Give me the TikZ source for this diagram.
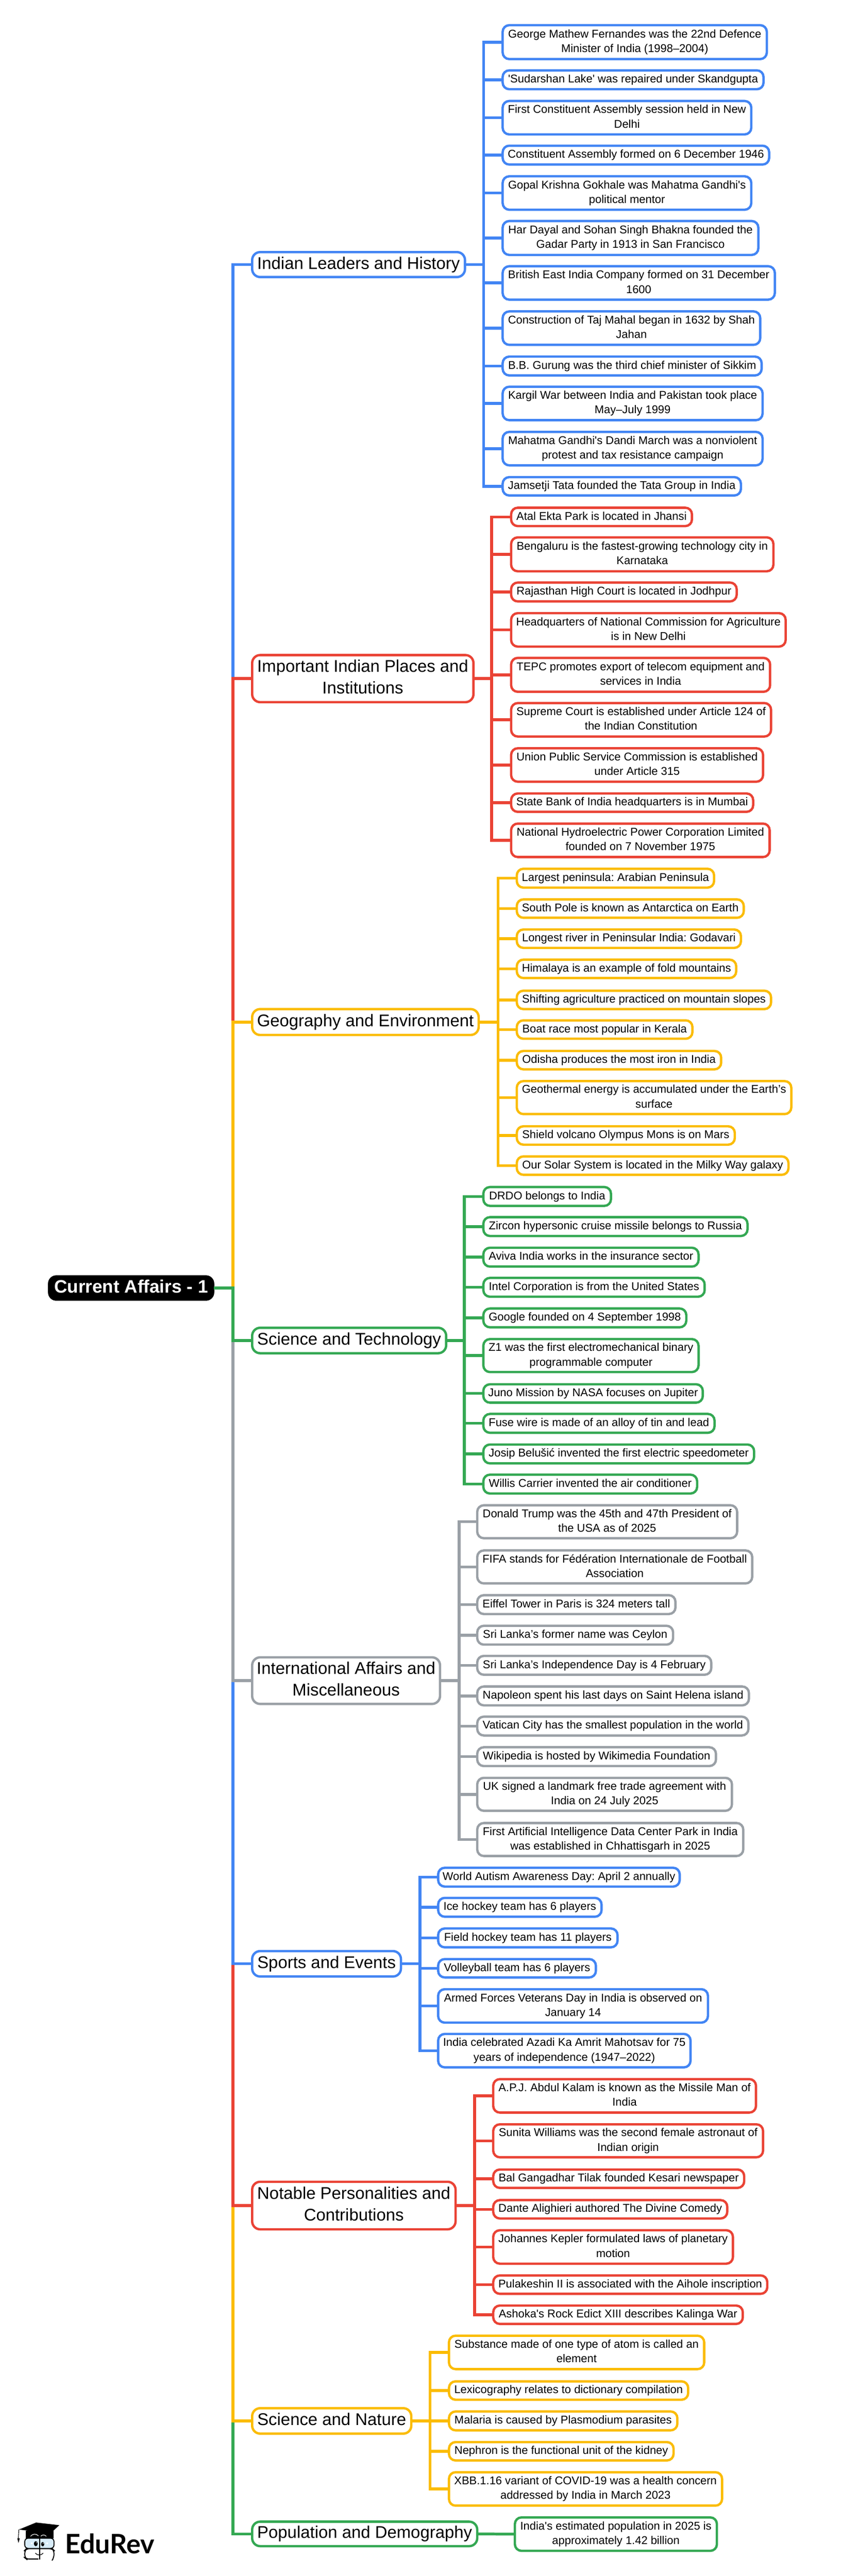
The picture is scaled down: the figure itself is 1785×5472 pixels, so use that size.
\documentclass[tikz,border=0pt]{standalone}
\usepackage{fontspec}
\newfontfamily\mapfont{Liberation Sans}
\newfontfamily\logofont{Lato}
\definecolor{gblue}{HTML}{4285F4}
\definecolor{gred}{HTML}{EA4335}
\definecolor{gyellow}{HTML}{FBBC04}
\definecolor{ggreen}{HTML}{34A853}
\definecolor{ggray}{HTML}{9AA0A6}
\definecolor{lens}{HTML}{D8ECF8}
\newcommand{\edgestrut}{\rule[-0.21em]{0pt}{0.94em}}
\tikzset{
  anybox/.style={rectangle, fill=white, inner sep=0pt, outer sep=0pt, align=center, text=black},
  leafbox/.style={anybox, draw=#1, line width=5pt, rounded corners=14pt,
    font=\fontsize{24}{31}\selectfont\mapfont\frenchspacing},
  branchbox/.style={anybox, draw=#1, line width=5pt, rounded corners=17pt,
    font=\fontsize{36}{46}\selectfont\mapfont\frenchspacing},
  rootbox/.style={anybox, fill=black, draw=black, line width=1pt, rounded corners=17pt, text=white,
    font=\fontsize{38.4}{46}\selectfont\mapfont\bfseries\frenchspacing},
  conn/.style={draw=#1, line width=6pt}
}
% name, style, x1, x2, y1, y2, text (outer edges)
\newcommand{\placebox}[7]{%
  \pgfmathsetmacro{\bw}{#4-#3-5}%
  \pgfmathsetmacro{\bh}{#6-#5-5}%
  \pgfmathsetmacro{\bx}{(#3+#4)/2}%
  \pgfmathsetmacro{\by}{(#5+#6)/2}%
  \node[#2, minimum width=\bw pt, minimum height=\bh pt] (#1) at (\bx,\by) {\edgestrut#7\edgestrut};%
}
\begin{document}
\begin{tikzpicture}[x=1pt,y=-1pt]
\useasboundingbox (0,0) rectangle (1785,5472);
\fill[white] (0,0) rectangle (1785,5472);

% ---------- nodes
\placebox{root}{rootbox}{100}{457}{2707}{2765}{Current Affairs - 1}

\placebox{b1}{branchbox=gblue}{533}{990}{533}{591}{Indian Leaders and History}
\placebox{b2}{branchbox=gred}{533}{1008}{1389}{1494}{Important Indian Places and\\Institutions}
\placebox{b3}{branchbox=gyellow}{533}{1019}{2141}{2201}{Geography and Environment}
\placebox{b4}{branchbox=ggreen}{533}{950}{2818}{2877}{Science and Technology}
\placebox{b5}{branchbox=ggray}{533}{937}{3518}{3622}{International Affairs and\\Miscellaneous}
\placebox{b6}{branchbox=gblue}{533}{854}{4142}{4201}{Sports and Events}
\placebox{b7}{branchbox=gred}{533}{970}{4632}{4738}{Notable Personalities and\\Contributions}
\placebox{b8}{branchbox=gyellow}{533}{876}{5113}{5172}{Science and Nature}
\placebox{b9}{branchbox=ggreen}{533}{1016}{5354}{5411}{Population and Demography}

\placebox{a1}{leafbox=gblue}{1065}{1631}{51}{128}{George Mathew Fernandes was the 22nd Defence\\Minister of India (1998–2004)}
\placebox{a2}{leafbox=gblue}{1065}{1624}{147}{192}{'Sudarshan Lake' was repaired under Skandgupta}
\placebox{a3}{leafbox=gblue}{1065}{1598}{212}{288}{First Constituent Assembly session held in New\\Delhi}
\placebox{a4}{leafbox=gblue}{1065}{1636}{307}{352}{Constituent Assembly formed on 6 December 1946}
\placebox{a5}{leafbox=gblue}{1065}{1598}{372}{448}{Gopal Krishna Gokhale was Mahatma Gandhi's\\political mentor}
\placebox{a6}{leafbox=gblue}{1065}{1613}{467}{544}{Har Dayal and Sohan Singh Bhakna founded the\\Gadar Party in 1913 in San Francisco}
\placebox{a7}{leafbox=gblue}{1065}{1648}{563}{639}{British East India Company formed on 31 December\\1600}
\placebox{a8}{leafbox=gblue}{1065}{1617}{659}{735}{Construction of Taj Mahal began in 1632 by Shah\\Jahan}
\placebox{a9}{leafbox=gblue}{1065}{1620}{755}{800}{B.B. Gurung was the third chief minister of Sikkim}
\placebox{a10}{leafbox=gblue}{1065}{1622}{819}{895}{Kargil War between India and Pakistan took place\\May–July 1999}
\placebox{a11}{leafbox=gblue}{1065}{1622}{915}{991}{Mahatma Gandhi's Dandi March was a nonviolent\\protest and tax resistance campaign}
\placebox{a12}{leafbox=gblue}{1065}{1576}{1011}{1055}{Jamsetji Tata founded the Tata Group in India}

\placebox{c1}{leafbox=gred}{1083}{1472}{1076}{1120}{Atal Ekta Park is located in Jhansi}
\placebox{c2}{leafbox=gred}{1083}{1645}{1139}{1216}{Bengaluru is the fastest-growing technology city in\\Karnataka}
\placebox{c3}{leafbox=gred}{1083}{1567}{1235}{1280}{Rajasthan High Court is located in Jodhpur}
\placebox{c4}{leafbox=gred}{1083}{1671}{1300}{1376}{Headquarters of National Commission for Agriculture\\is in New Delhi}
\placebox{c5}{leafbox=gred}{1083}{1638}{1395}{1472}{TEPC promotes export of telecom equipment and\\services in India}
\placebox{c6}{leafbox=gred}{1083}{1640}{1491}{1567}{Supreme Court is established under Article 124 of\\the Indian Constitution}
\placebox{c7}{leafbox=gred}{1083}{1623}{1587}{1663}{Union Public Service Commission is established\\under Article 315}
\placebox{c8}{leafbox=gred}{1083}{1602}{1683}{1727}{State Bank of India headquarters is in Mumbai}
\placebox{c9}{leafbox=gred}{1083}{1637}{1747}{1823}{National Hydroelectric Power Corporation Limited\\founded on 7 November 1975}

\placebox{d1}{leafbox=gyellow}{1095}{1519}{1843}{1888}{Largest peninsula: Arabian Peninsula}
\placebox{d2}{leafbox=gyellow}{1095}{1582}{1908}{1952}{South Pole is known as Antarctica on Earth}
\placebox{d3}{leafbox=gyellow}{1095}{1576}{1972}{2016}{Longest river in Peninsular India: Godavari}
\placebox{d4}{leafbox=gyellow}{1095}{1566}{2036}{2080}{Himalaya is an example of fold mountains}
\placebox{d5}{leafbox=gyellow}{1095}{1640}{2102}{2146}{Shifting agriculture practiced on mountain slopes}
\placebox{d6}{leafbox=gyellow}{1095}{1473}{2165}{2209}{Boat race most popular in Kerala}
\placebox{d7}{leafbox=gyellow}{1095}{1534}{2230}{2274}{Odisha produces the most iron in India}
\placebox{d8}{leafbox=gyellow}{1095}{1683}{2294}{2369}{Geothermal energy is accumulated under the Earth’s\\surface}
\placebox{d9}{leafbox=gyellow}{1095}{1563}{2390}{2434}{Shield volcano Olympus Mons is on Mars}
\placebox{d10}{leafbox=gyellow}{1095}{1677}{2454}{2498}{Our Solar System is located in the Milky Way galaxy}

\placebox{e1}{leafbox=ggreen}{1024}{1300}{2519}{2564}{DRDO belongs to India}
\placebox{e2}{leafbox=ggreen}{1024}{1590}{2583}{2628}{Zircon hypersonic cruise missile belongs to Russia}
\placebox{e3}{leafbox=ggreen}{1024}{1486}{2648}{2693}{Aviva India works in the insurance sector}
\placebox{e4}{leafbox=ggreen}{1024}{1499}{2712}{2757}{Intel Corporation is from the United States}
\placebox{e5}{leafbox=ggreen}{1024}{1460}{2777}{2822}{Google founded on 4 September 1998}
\placebox{e6}{leafbox=ggreen}{1024}{1486}{2842}{2917}{Z1 was the first electromechanical binary\\programmable computer}
\placebox{e7}{leafbox=ggreen}{1024}{1495}{2938}{2982}{Juno Mission by NASA focuses on Jupiter}
\placebox{e8}{leafbox=ggreen}{1024}{1520}{3001}{3046}{Fuse wire is made of an alloy of tin and lead}
\placebox{e9}{leafbox=ggreen}{1024}{1604}{3066}{3111}{Josip Belušić invented the first electric speedometer}
\placebox{e10}{leafbox=ggreen}{1024}{1483}{3130}{3175}{Willis Carrier invented the air conditioner}

\placebox{f1}{leafbox=ggray}{1011}{1568}{3195}{3270}{Donald Trump was the 45th and 47th President of\\the USA as of 2025}
\placebox{f2}{leafbox=ggray}{1011}{1600}{3291}{3366}{FIFA stands for Fédération Internationale de Football\\Association}
\placebox{f3}{leafbox=ggray}{1011}{1437}{3386}{3431}{Eiffel Tower in Paris is 324 meters tall}
\placebox{f4}{leafbox=ggray}{1011}{1432}{3451}{3496}{Sri Lanka’s former name was Ceylon}
\placebox{f5}{leafbox=ggray}{1011}{1513}{3515}{3560}{Sri Lanka’s Independence Day is 4 February}
\placebox{f6}{leafbox=ggray}{1011}{1593}{3580}{3625}{Napoleon spent his last days on Saint Helena island}
\placebox{f7}{leafbox=ggray}{1011}{1592}{3644}{3689}{Vatican City has the smallest population in the world}
\placebox{f8}{leafbox=ggray}{1011}{1523}{3709}{3754}{Wikipedia is hosted by Wikimedia Foundation}
\placebox{f9}{leafbox=ggray}{1011}{1557}{3774}{3849}{UK signed a landmark free trade agreement with\\India on 24 July 2025}
\placebox{f10}{leafbox=ggray}{1011}{1581}{3870}{3945}{First Artificial Intelligence Data Center Park in India\\was established in Chhattisgarh in 2025}

\placebox{g1}{leafbox=gblue}{928}{1446}{3965}{4010}{World Autism Awareness Day: April 2 annually}
\placebox{g2}{leafbox=gblue}{928}{1280}{4029}{4074}{Ice hockey team has 6 players}
\placebox{g3}{leafbox=gblue}{928}{1314}{4094}{4139}{Field hockey team has 11 players}
\placebox{g4}{leafbox=gblue}{928}{1268}{4159}{4203}{Volleyball team has 6 players}
\placebox{g5}{leafbox=gblue}{928}{1506}{4223}{4299}{Armed Forces Veterans Day in India is observed on\\January 14}
\placebox{g6}{leafbox=gblue}{928}{1469}{4318}{4394}{India celebrated Azadi Ka Amrit Mahotsav for 75\\years of independence (1947–2022)}

\placebox{h1}{leafbox=gred}{1045}{1608}{4414}{4490}{A.P.J. Abdul Kalam is known as the Missile Man of\\India}
\placebox{h2}{leafbox=gred}{1045}{1623}{4510}{4585}{Sunita Williams was the second female astronaut of\\Indian origin}
\placebox{h3}{leafbox=gred}{1045}{1583}{4606}{4650}{Bal Gangadhar Tilak founded Kesari newspaper}
\placebox{h4}{leafbox=gred}{1045}{1547}{4671}{4715}{Dante Alighieri authored The Divine Comedy}
\placebox{h5}{leafbox=gred}{1045}{1559}{4735}{4811}{Johannes Kepler formulated laws of planetary\\motion}
\placebox{h6}{leafbox=gred}{1045}{1632}{4831}{4875}{Pulakeshin II is associated with the Aihole inscription}
\placebox{h7}{leafbox=gred}{1045}{1580}{4895}{4939}{Ashoka's Rock Edict XIII describes Kalinga War}

\placebox{k1}{leafbox=gyellow}{951}{1498}{4959}{5035}{Substance made of one type of atom is called an\\element}
\placebox{k2}{leafbox=gyellow}{951}{1464}{5056}{5100}{Lexicography relates to dictionary compilation}
\placebox{k3}{leafbox=gyellow}{951}{1441}{5120}{5165}{Malaria is caused by Plasmodium parasites}
\placebox{k4}{leafbox=gyellow}{951}{1433}{5185}{5229}{Nephron is the functional unit of the kidney}
\placebox{k5}{leafbox=gyellow}{951}{1536}{5249}{5325}{XBB.1.16 variant of COVID-19 was a health concern\\addressed by India in March 2023}

\placebox{m1}{leafbox=ggreen}{1091}{1525}{5345}{5421}{India's estimated population in 2025 is\\approximately 1.42 billion}

% ---------- junctions
\coordinate (jroot) at (494.5,2736);
\coordinate (j1) at (1027,0 |- b1.east);
\coordinate (j2) at (1044,0 |- b2.east);
\coordinate (j3) at (1058,0 |- b3.east);
\coordinate (j4) at (986,0 |- b4.east);
\coordinate (j5) at (975,0 |- b5.east);
\coordinate (j6) at (892,0 |- b6.east);
\coordinate (j7) at (1008,0 |- b7.east);
\coordinate (j8) at (913,0 |- b8.east);

% ---------- connectors root to branches (order gives the stem its colours)
\foreach \b/\c in {b1/gblue,b2/gred,b3/gyellow,b9/ggreen,b8/gyellow,b7/gred,b6/gblue,b5/ggray,b4/ggreen}
  \draw[conn=\c] (root.east) -- (jroot) |- (\b.west);

% ---------- connectors branch to leaves
\foreach \n in {1,...,12} \draw[conn=gblue] (b1.east) -- (j1) |- (a\n.west);
\foreach \n in {1,...,9}  \draw[conn=gred] (b2.east) -- (j2) |- (c\n.west);
\foreach \n in {1,...,10} \draw[conn=gyellow] (b3.east) -- (j3) |- (d\n.west);
\foreach \n in {1,...,10} \draw[conn=ggreen] (b4.east) -- (j4) |- (e\n.west);
\foreach \n in {1,...,10} \draw[conn=ggray] (b5.east) -- (j5) |- (f\n.west);
\foreach \n in {1,...,6}  \draw[conn=gblue] (b6.east) -- (j6) |- (g\n.west);
\foreach \n in {1,...,7}  \draw[conn=gred] (b7.east) -- (j7) |- (h\n.west);
\foreach \n in {1,...,5}  \draw[conn=gyellow] (b8.east) -- (j8) |- (k\n.west);
\draw[conn=ggreen] (b9.east) -- (m1.west);

% ---------- logo
\begin{scope}[shift={(20,5340)},x=0.3333pt,y=-0.3333pt]
  \fill[black] (103,108) -- (280,108) -- (280,156) -- (103,156) -- cycle;
  \draw[white,line width=1.2pt] (135,143) .. controls (150,125) and (170,125) .. (185,140);
  \draw[white,line width=1.2pt] (200,142) .. controls (210,132) and (225,132) .. (235,143);
  \fill[black] (60,100) -- (170,55) -- (318,72) -- (250,135) -- (165,112) -- cycle;
  \draw[black,line width=1.2pt] (60,100) -- (57,155);
  \fill[black] (50,155) -- (66,155) -- (58,186) -- cycle;
  \draw[black,line width=2pt,fill=lens,rounded corners=7pt] (98,155) rectangle (284,220);
  \draw[black,line width=2pt,rounded corners=7pt] (190,222) -- (108,222) -- (98,232) -- (98,280) -- (108,288) -- (185,288);
  \draw[black,line width=2pt,rounded corners=7pt] (196,222) -- (274,222) -- (284,232) -- (284,280) -- (278,288);
  \draw[black,line width=2pt] (192,155) -- (192,290);
  \fill[black] (168,190) ellipse [x radius=12,y radius=16];
  \fill[black] (212,193) ellipse [x radius=10,y radius=14];
  \fill[white] (172,184) circle [radius=3];
  \fill[white] (215,187) circle [radius=3];
  \draw[black,line width=1.4pt] (165,250) .. controls (178,266) and (202,266) .. (215,250);
  \fill[white] (136,183) rectangle (146,193);
  \fill[white] (236,183) rectangle (246,193);
\end{scope}
\node[anchor=base west, inner sep=0pt, font=\fontsize{57}{60}\selectfont\logofont\bfseries] (logotext) at (138,5424) {EduRev};
\end{tikzpicture}
\end{document}
